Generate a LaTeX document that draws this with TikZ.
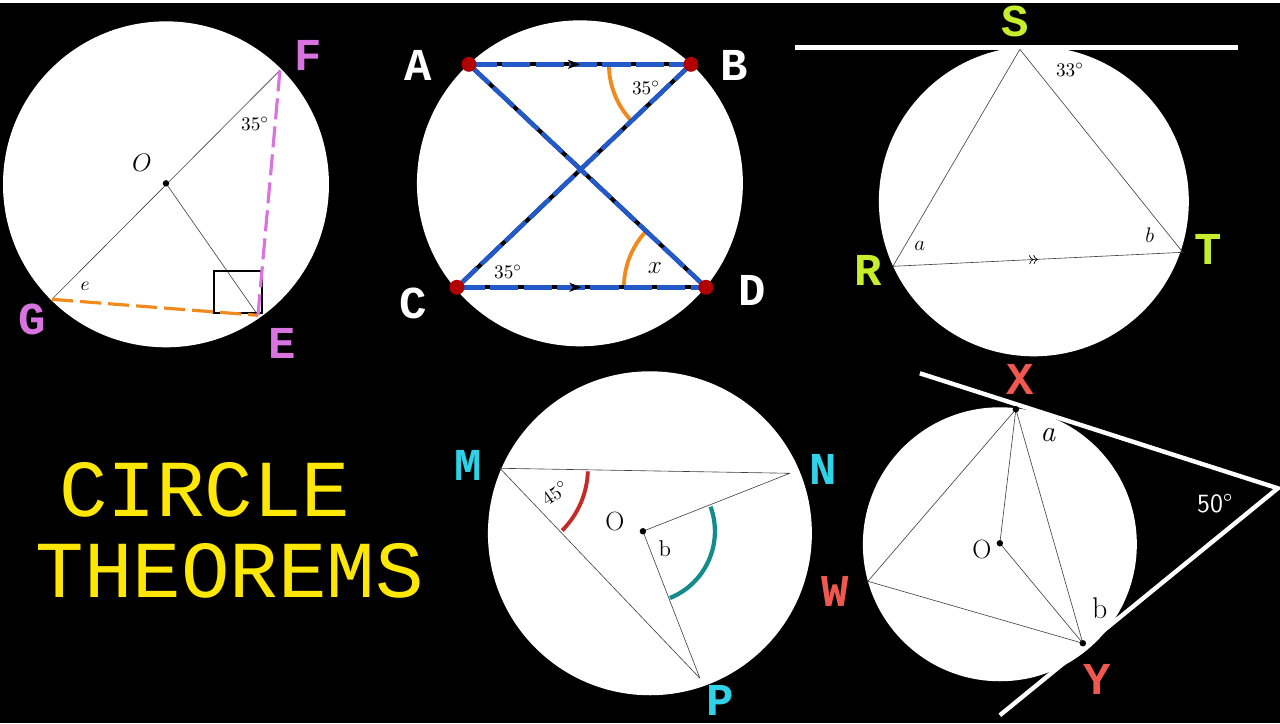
\documentclass[tikz,border=0pt]{standalone}
\usepackage{fontspec}
\newfontfamily\mono{Liberation Mono}
\usetikzlibrary{arrows.meta,decorations.markings}
\definecolor{vio}{HTML}{D873E0}
\definecolor{ylg}{HTML}{C6EE2C}
\definecolor{cyn}{HTML}{2ED3E8}
\definecolor{rd}{HTML}{F0584F}
\definecolor{bl}{HTML}{2459C8}
\definecolor{org}{HTML}{F08A1E}
\definecolor{dred}{HTML}{C42A26}
\definecolor{teal}{HTML}{148C8C}
\begin{document}
\begin{tikzpicture}[x=0.02cm,y=-0.02cm,
  disk/.style={fill=white},
  thin/.style={draw=black!75,line width=0.35pt},
  pt/.style={circle,fill=black,inner sep=1.3pt},
  big/.style={font=\mono\bfseries\fontsize{26}{26}\selectfont},
  ang/.style={font=\fontsize{11}{11}\selectfont},
  bdash/.style={draw=bl,line width=2.6pt,dash pattern=on 16pt off 3pt},
  rdot/.style={circle,fill=red!70!black,inner sep=3pt},
  mid/.style={postaction={decorate},decoration={markings,mark=at position 0.5 with {\arrow{Stealth[length=7pt]}}}}]
\fill[black] (0,0) rectangle (1280,720);
% circle 1
\fill[disk] (166,181) circle (163);
\coordinate (O1) at (166,180);
\coordinate (F) at (280,67); \coordinate (G) at (52,296); \coordinate (E) at (258,312);
\draw[thin] (G)--(F) (O1)--(E);
\node[pt] at (O1) {};
\draw[line width=1pt] (214,268) rectangle (262,310);
\draw[org,line width=1.8pt,dash pattern=on 12pt off 4pt] (G)--(E);
\draw[vio,line width=1.8pt,dash pattern=on 12pt off 4pt] (E)--(F);
\node[ang] at (255,120) {$35^\circ$};
\node[ang,font=\fontsize{14}{14}\selectfont] at (142,160) {$O$};
\node[ang] at (85,283) {$e$};
\node[big,vio] (lF) at (308,52) {F};
\node[big,vio] (lG) at (32,316) {G};
\node[big,vio] (lE) at (282,340) {E};
% circle 2
\fill[disk] (580,180) circle (163);
\coordinate (A) at (469,61); \coordinate (B) at (691,61);
\coordinate (C) at (457,284); \coordinate (D) at (706,284);
\draw[org,line width=2.2pt] (B)++(136:82) arc (136:180:82);
\draw[org,line width=2.2pt] (D)++(180:82) arc (180:224:82);
\foreach \p/\q in {A/B,C/D,A/D,C/B}{\draw[black,line width=2.4pt] (\p)--(\q); \draw[bdash] (\p)--(\q);}
\path[mid] (A)--(B); \path[mid] (C)--(D);
\node[rdot] at (A) {}; \node[rdot] at (B) {}; \node[rdot] at (C) {}; \node[rdot] at (D) {};
\node[ang] at (646,84) {$35^\circ$};
\node[ang] at (508,268) {$35^\circ$};
\node[ang,font=\fontsize{14}{14}\selectfont] at (655,265) {$x$};
\node[big,white] at (418,62) {A};
\node[big,white] at (734,62) {B};
\node[big,white] at (413,300) {C};
\node[big,white] at (752,287) {D};
% circle 3
\fill[disk] (1034,198) circle (155);
\draw[white,line width=2.5pt] (795,44)--(1238,44);
\coordinate (S) at (1020,46); \coordinate (R) at (893,263); \coordinate (T) at (1183,249);
\draw[thin] (S)--(R) (S)--(T) (R)--(T);
\path[postaction={decorate},decoration={markings,mark=at position 0.5 with {\arrow{>>}}}] (R)--(T);
\node[ang] at (1070,66) {$33^\circ$};
\node[ang,font=\fontsize{13}{13}\selectfont] at (920,243) {$a$};
\node[ang,font=\fontsize{13}{13}\selectfont] at (1150,232) {$b$};
\node[big,ylg] at (1015,18) {S};
\node[big,ylg] at (868,267) {R};
\node[big,ylg] at (1208,246) {T};
% circle 4
\fill[disk] (650,530) circle (162);
\coordinate (M) at (500,465); \coordinate (N) at (790,470); \coordinate (P) at (700,675); \coordinate (O4) at (643,528);
\draw[thin] (M)--(N) (M)--(P) (O4)--(N) (O4)--(P);
\draw[dred,line width=2.2pt] (M)++(2:88) arc (2:45:88);
\draw[teal,line width=2.4pt] (O4)++(-20:72) arc (-20:68:72);
\node[pt] at (O4) {};
\node[ang,rotate=35,inner sep=0pt] at (555,490) {$45^\circ$};
\node[font=\fontsize{15}{15}\selectfont] at (615,518) {O};
\node[font=\fontsize{13}{13}\selectfont] at (665,545) {b};
\node[big,cyn] at (468,462) {M};
\node[big,cyn] at (823,466) {N};
\node[big,cyn] at (720,697) {P};
% circle 5
\fill[disk] (1000,541) circle (137);
\coordinate (X) at (1016,406); \coordinate (Y) at (1083,640); \coordinate (W) at (868,578); \coordinate (O5) at (1000,540);
\coordinate (K) at (1278,485);
\draw[white,line width=2.5pt] (920,370)--(K)--(1000,712);
\draw[thin] (X)--(W)--(Y)--(X)--(O5)--(Y);
\node[pt] at (X) {}; \node[pt] at (Y) {}; \node[pt] at (O5) {};
\node[font=\fontsize{17}{17}\selectfont\itshape] at (1048,432) {a};
\node[font=\fontsize{17}{17}\selectfont] at (1100,605) {b};
\node[font=\fontsize{15}{15}\selectfont] at (982,546) {O};
\node[white,font=\sffamily\fontsize{15}{15}\selectfont] at (1215,500) {50°};
\node[big,rd] at (1020,376) {X};
\node[big,rd] at (835,588) {W};
\node[big,rd] at (1097,676) {Y};
% title
\node[font=\mono\fontsize{46}{46}\selectfont,yellow!90!orange] at (205,487) {CIRCLE};
\node[font=\mono\fontsize{46}{46}\selectfont,yellow!90!orange] at (230,568) {THEOREMS};
\end{tikzpicture}
\end{document}
